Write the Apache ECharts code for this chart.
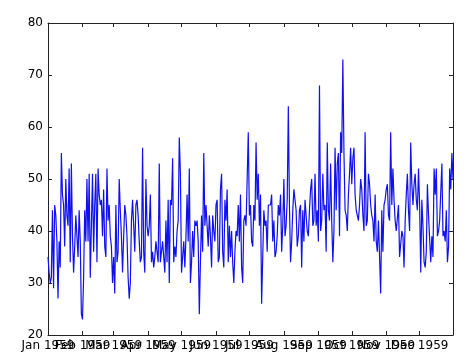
<!DOCTYPE html>
<html><head><meta charset="utf-8">
<script src="https://cdn.jsdelivr.net/npm/echarts@6/dist/echarts.min.js"></script>
<style>html,body{margin:0;padding:0;background:#fff}#c{width:474px;height:362px}</style>
</head><body><div id="c"></div>
<script>
const monthNames = ['Jan','Feb','Mar','Apr','May','Jun','Jul','Aug','Sep','Oct','Nov','Dec'];
const jan = [35,32,30,31,44,29,45,43,38,27,38,33,55,47,45,37,50,43,41,52,34,53,39,32,37,43,39,35,44,38,24];
const feb = [23,31,44,38,50,38,51,31,31,51,36,45,51,34,52,47,45,46,39,48,37,35,52,42,45,39,37,30];
const mar = [35,28,45,34,36,50,44,39,32,39,45,43,39,31,27,30,42,46,41,36,45,46,43,38,34,35,56,36,32,50,41];
const apr = [39,41,47,34,36,33,35,38,38,34,53,34,34,38,35,32,42,34,46,30,46,45,54,34,37,35,40,42,58,51];
const may = [32,35,38,33,39,47,38,52,30,34,40,35,42,41,42,38,24,34,43,36,55,41,45,41,37,43,39,33,43,40,38];
const jun = [45,46,34,35,48,51,36,33,46,42,48,34,41,35,40,34,30,36,40,39,45,38,47,33,30,42,43,41,41,59];
const jul = [43,45,38,37,45,42,57,46,51,41,47,26,35,44,41,42,36,45,45,45,47,38,42,35,36,39,45,43,47,36,41];
const aug = [50,39,41,46,64,45,34,38,44,48,46,44,37,39,44,45,33,44,38,46,46,40,39,44,48,50,41,42,51,41,44];
const sep = [38,68,40,42,51,44,45,36,57,44,42,53,42,34,40,56,44,53,55,39,59,55,73,55,44,43,40,47,51,56];
const oct = [49,54,56,47,44,43,42,45,50,48,43,40,59,41,42,51,49,45,43,42,38,47,38,36,42,35,28,44,36,45,46];
const nov = [48,49,43,42,59,45,52,46,42,40,40,45,35,35,40,39,33,42,47,51,44,40,57,49,45,49,51,46,44,52];
const dec = [45,32,46,41,34,33,36,49,43,43,34,39,35,52,47,52,39,40,42,42,53,39,40,38,44,34,37,52,48,55,50];
const births = [].concat(jan,feb,mar,apr,may,jun,jul,aug,sep,oct,nov,dec);
const yTicks = [20,30,40,50,60,70,80];

const t0 = Date.UTC(1959,0,1);
const dates = births.map((v,i)=>{
  const d = new Date(t0 + i*86400000);
  return d.getUTCFullYear()+'-'+String(d.getUTCMonth()+1).padStart(2,'0')+'-'+String(d.getUTCDate()).padStart(2,'0');
});
const monthOf = v => parseInt(String(v).slice(5,7),10);
const isMonthStart = (idx, val) => String(val).endsWith('-01');
const isOddMonthStart = (idx, val) => isMonthStart(idx, val) && monthOf(val) % 2 === 1;
const isEvenMonthStart = (idx, val) => isMonthStart(idx, val) && monthOf(val) % 2 === 0;
const fmt = v => monthNames[monthOf(v)-1] + ' ' + String(v).slice(0,4);

const font = 'DejaVu Sans';
const frame = '#222';
const labelStyle = {color:'#000',fontFamily:font,fontSize:12,margin:5,hideOverlap:false,showMinLabel:true,showMaxLabel:true,formatter:fmt};
const chart = echarts.init(document.getElementById('c'));
chart.setOption({
  animation:false,
  backgroundColor:'#fff',
  grid:{left:48,right:21,top:23,bottom:27,containLabel:false},
  xAxis:[{
    type:'category', data:dates, boundaryGap:false, position:'bottom', offset:0,
    axisLine:{show:true,lineStyle:{color:frame,width:1}},
    axisTick:{show:true,inside:true,length:4,interval:isMonthStart,lineStyle:{color:frame}},
    axisLabel:Object.assign({interval:isOddMonthStart}, labelStyle),
    splitLine:{show:false}
  },{
    type:'category', data:dates, boundaryGap:false, position:'top',
    axisLine:{show:true,lineStyle:{color:frame,width:1}},
    axisTick:{show:true,inside:true,length:4,interval:isMonthStart,lineStyle:{color:frame}},
    axisLabel:{show:false},
    splitLine:{show:false}
  },{
    type:'category', data:dates, boundaryGap:false, position:'bottom', offset:0,
    axisLine:{show:false}, axisTick:{show:false},
    axisLabel:Object.assign({interval:isEvenMonthStart}, labelStyle),
    splitLine:{show:false}
  }],
  yAxis:[{
    type:'value', min:yTicks[0], max:yTicks[yTicks.length-1], interval:10, position:'left',
    axisLine:{show:true,lineStyle:{color:frame,width:1}},
    axisTick:{show:true,inside:true,length:4,lineStyle:{color:frame}},
    axisLabel:{color:'#000',fontFamily:font,fontSize:12,margin:5,showMinLabel:true,showMaxLabel:true},
    splitLine:{show:false}
  },{
    type:'value', min:yTicks[0], max:yTicks[yTicks.length-1], interval:10, position:'right',
    axisLine:{show:true,lineStyle:{color:frame,width:1}},
    axisTick:{show:true,inside:true,length:4,lineStyle:{color:frame}},
    axisLabel:{show:false},
    splitLine:{show:false}
  }],
  series:[{
    type:'line', data:births, xAxisIndex:0, yAxisIndex:0,
    showSymbol:false, symbol:'none',
    lineStyle:{color:'#1010f0',width:1.2},
    itemStyle:{color:'#1010f0'}
  }]
});
</script></body></html>
